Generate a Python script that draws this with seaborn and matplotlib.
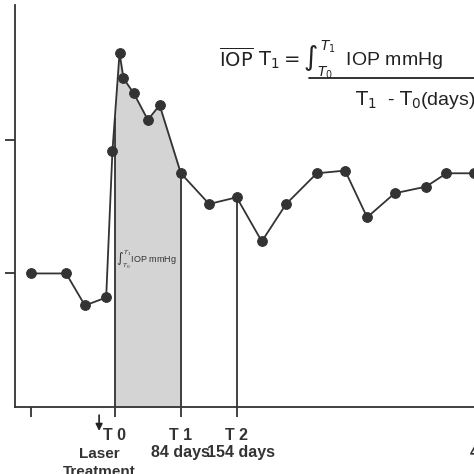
import numpy as np
import pandas as pd
import seaborn as sns
import matplotlib.pyplot as plt

# days relative to laser treatment (T0) and IOP (mmHg)
days = [-107, -62, -38, -11, -3, 6, 11, 24, 42, 57, 84, 120, 155, 187, 218, 257, 293, 321, 356, 396, 422, 457]
iop = [10.0, 10.0, 7.6, 8.2, 19.2, 26.5, 24.6, 23.5, 21.5, 22.6, 17.5, 15.2, 15.7, 12.4, 15.2, 17.5, 17.7, 14.2, 16.0, 16.5, 17.5, 17.5]
tick_days = [-107, 0, 84, 155]
tick_labels = ["", "T 0", "T 1", "T 2"]

df = pd.DataFrame({"day": days, "iop": iop})
sns.set_style("white")
plt.rcParams['font.family'] = ['Liberation Sans', 'DejaVu Sans']

fig = plt.figure(figsize=(4.74, 4.74), dpi=100)
ax = fig.add_axes([15/474, 1-407/474, 1-15/474, (407-5)/474])

# shaded area between T0 and T1
xf = np.linspace(0, 84, 200)
yf = np.interp(xf, days, iop)
ax.fill_between(xf, 0, yf, color="#d4d4d4", zorder=1)
for t in [0, 84, 155]:
    ax.plot([t, t], [0, np.interp(t, days, iop)], color="#333333", lw=1.3, zorder=2)

sns.lineplot(data=df, x="day", y="iop", ax=ax, color="#333333", lw=1.3,
             marker="o", markersize=7, markeredgecolor="#333333", zorder=3)

ax.set_xlim(-127, 457)
ax.set_ylim(0, 30.1)
for s in ["top", "right"]:
    ax.spines[s].set_visible(False)
for s in ["left", "bottom"]:
    ax.spines[s].set_color("#333333")
    ax.spines[s].set_linewidth(1.3)
ax.set_xlabel("")
ax.set_ylabel("")
ax.set_yticks([10, 20])
ax.set_yticklabels([])
ax.set_xticks(tick_days)
ax.set_xticklabels(tick_labels, fontsize=11.5, fontweight="bold", color="#333333")
ax.tick_params(left=True, bottom=True, direction="out", length=7, width=1.3,
               color="#333333", pad=8)

# arrow for laser treatment
ax.annotate("", xy=(-20, -2.0), xytext=(-20, -0.4), xycoords="data",
            arrowprops=dict(arrowstyle="-|>", color="#222222", lw=1.2, mutation_scale=10),
            annotation_clip=False)
ax.text(-20, -4.2, "Laser\nTreatment", ha="center", va="center", fontsize=11,
        fontweight="bold", color="#333333", linespacing=1.3)
ax.text(84, -3.4, "84 days", ha="center", va="center", fontsize=11.5, fontweight="bold", color="#333333")
ax.text(160, -3.4, "154 days", ha="center", va="center", fontsize=11.5, fontweight="bold", color="#333333")
ax.text(452, -3.4, "4", ha="left", va="center", fontsize=11.5, fontweight="bold", color="#333333")

# integral label inside the shaded region
ax.text(2, 10.8, r"$\int_{T_0}^{T_1}$IOP mmHg", fontsize=6.5, color="#333333")

# formula top right
ax.text(132, 26.0, r"$\overline{\mathrm{IOP}}\ \mathrm{T_1} = \int_{T_0}^{T_1}$  IOP mmHg",
        fontsize=14, color="#222222", va="center")
ax.plot([247, 470], [24.6, 24.6], color="#222222", lw=1.3, clip_on=False)
ax.text(305, 23.0, r"$\mathrm{T_1}$  - $\mathrm{T_0}$(days)", fontsize=14, color="#222222",
        va="center", clip_on=False)

fig.savefig("out.png", dpi=100)
